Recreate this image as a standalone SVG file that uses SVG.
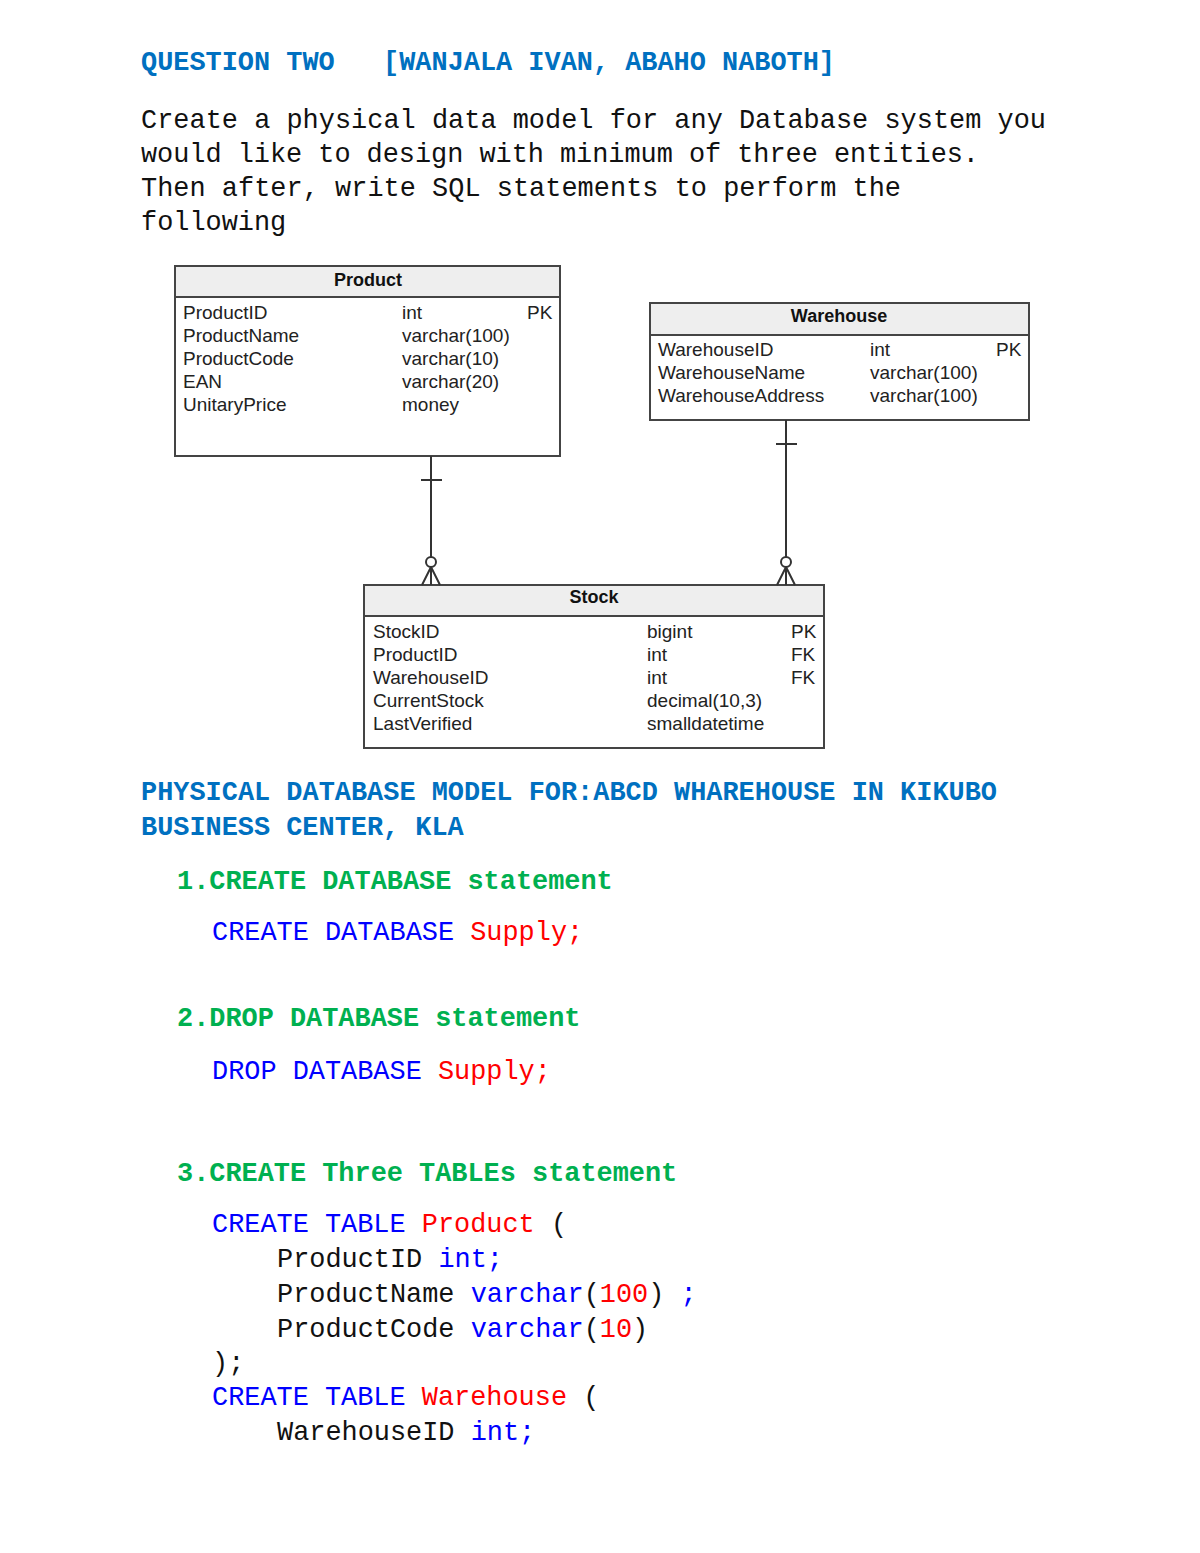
<svg xmlns="http://www.w3.org/2000/svg" width="1200" height="1553" viewBox="0 0 1200 1553">
<style>
.m{font-family:"Liberation Mono","DejaVu Sans Mono",monospace;font-size:26.9px}
.h{fill:#0070C0;font-weight:bold}
.g{fill:#00B050;font-weight:bold}
.b{fill:#0000FF}.r{fill:#FF0000}.k{fill:#111}
.e{font-family:"Liberation Sans",Arial,sans-serif;font-size:19px;fill:#222}
.eh{font-family:"Liberation Sans",Arial,sans-serif;font-size:18px;font-weight:bold;fill:#111;text-anchor:middle}
.box{fill:#fff;stroke:#444;stroke-width:2}
.hd{fill:#eee;stroke:#444;stroke-width:2}
.ln{stroke:#333;stroke-width:2;fill:none}
</style>
<rect width="1200" height="1553" fill="#fff"/>
<text class="m h" x="141" y="70" textLength="694" xml:space="preserve">QUESTION TWO   [WANJALA IVAN, ABAHO NABOTH]</text>
<text class="m k" x="141" y="128" textLength="905">Create a physical data model for any Database system you</text>
<text class="m k" x="141" y="162" textLength="838">would like to design with minimum of three entities.</text>
<text class="m k" x="141" y="196" textLength="760">Then after, write SQL statements to perform the</text>
<text class="m k" x="141" y="230">following</text>

<g id="product">
<rect class="box" x="175" y="266" width="385" height="190"/>
<rect class="hd" x="175" y="266" width="385" height="31"/>
<text class="eh" x="368" y="286">Product</text>
<text class="e" x="183" y="319">ProductID</text><text class="e" x="402" y="319">int</text><text class="e" x="527" y="319">PK</text>
<text class="e" x="183" y="342">ProductName</text><text class="e" x="402" y="342">varchar(100)</text>
<text class="e" x="183" y="365">ProductCode</text><text class="e" x="402" y="365">varchar(10)</text>
<text class="e" x="183" y="388">EAN</text><text class="e" x="402" y="388">varchar(20)</text>
<text class="e" x="183" y="411">UnitaryPrice</text><text class="e" x="402" y="411">money</text>
</g>
<g id="warehouse">
<rect class="box" x="650" y="303" width="379" height="117"/>
<rect class="hd" x="650" y="303" width="379" height="32"/>
<text class="eh" x="839" y="322">Warehouse</text>
<text class="e" x="658" y="356">WarehouseID</text><text class="e" x="870" y="356">int</text><text class="e" x="996" y="356">PK</text>
<text class="e" x="658" y="379">WarehouseName</text><text class="e" x="870" y="379">varchar(100)</text>
<text class="e" x="658" y="402">WarehouseAddress</text><text class="e" x="870" y="402">varchar(100)</text>
</g>
<g id="stock">
<rect class="box" x="364" y="585" width="460" height="163"/>
<rect class="hd" x="364" y="585" width="460" height="31"/>
<text class="eh" x="594" y="603">Stock</text>
<text class="e" x="373" y="638">StockID</text><text class="e" x="647" y="638">bigint</text><text class="e" x="791" y="638">PK</text>
<text class="e" x="373" y="661">ProductID</text><text class="e" x="647" y="661">int</text><text class="e" x="791" y="661">FK</text>
<text class="e" x="373" y="684">WarehouseID</text><text class="e" x="647" y="684">int</text><text class="e" x="791" y="684">FK</text>
<text class="e" x="373" y="707">CurrentStock</text><text class="e" x="647" y="707">decimal(10,3)</text>
<text class="e" x="373" y="730">LastVerified</text><text class="e" x="647" y="730">smalldatetime</text>
</g>
<g id="connectors">
<path class="ln" d="M431 456V557M421 480H442M431 567V585M431 567L422 585M431 567L440 585"/>
<circle class="ln" cx="431" cy="562" r="5"/>
<path class="ln" d="M786 420V557M776 444H797M786 567V585M786 567L777 585M786 567L795 585"/>
<circle class="ln" cx="786" cy="562" r="5"/>
</g>

<text class="m h" x="141" y="800" textLength="856">PHYSICAL DATABASE MODEL FOR:ABCD WHAREHOUSE IN KIKUBO</text>
<text class="m h" x="141" y="835">BUSINESS CENTER, KLA</text>
<text class="m g" x="177" y="889">1.CREATE DATABASE statement</text>
<text class="m" x="212" y="940"><tspan class="b">CREATE DATABASE </tspan><tspan class="r">Supply;</tspan></text>
<text class="m g" x="177" y="1026">2.DROP DATABASE statement</text>
<text class="m" x="212" y="1079"><tspan class="b">DROP DATABASE </tspan><tspan class="r">Supply;</tspan></text>
<text class="m g" x="177" y="1181">3.CREATE Three TABLEs statement</text>
<text class="m" x="212" y="1232"><tspan class="b">CREATE TABLE </tspan><tspan class="r">Product</tspan><tspan class="k"> (</tspan></text>
<text class="m" x="277" y="1267"><tspan class="k">ProductID </tspan><tspan class="b">int;</tspan></text>
<text class="m" x="277" y="1302"><tspan class="k">ProductName </tspan><tspan class="b">varchar</tspan><tspan class="k">(</tspan><tspan class="r">100</tspan><tspan class="k">) </tspan><tspan class="b">;</tspan></text>
<text class="m" x="277" y="1337"><tspan class="k">ProductCode </tspan><tspan class="b">varchar</tspan><tspan class="k">(</tspan><tspan class="r">10</tspan><tspan class="k">)</tspan></text>
<text class="m k" x="212" y="1371">);</text>
<text class="m" x="212" y="1405"><tspan class="b">CREATE TABLE </tspan><tspan class="r">Warehouse</tspan><tspan class="k"> (</tspan></text>
<text class="m" x="277" y="1440"><tspan class="k">WarehouseID </tspan><tspan class="b">int;</tspan></text>
</svg>
